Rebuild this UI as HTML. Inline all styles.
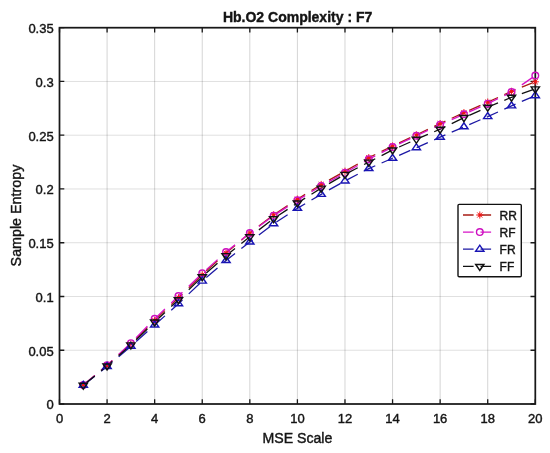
<!DOCTYPE html>
<html><head><meta charset="utf-8"><title>Hb.O2 Complexity : F7</title>
<style>html,body{margin:0;padding:0;background:#fff;overflow:hidden}svg{display:block;filter:blur(0.4px)}</style>
</head><body>
<svg width="550" height="453" viewBox="0 0 550 453">
<rect width="550" height="453" fill="#fff"/>
<path d="M107.08 27.7 V404.0 M154.66 27.7 V404.0 M202.24 27.7 V404.0 M249.82 27.7 V404.0 M297.40 27.7 V404.0 M344.98 27.7 V404.0 M392.56 27.7 V404.0 M440.14 27.7 V404.0 M487.72 27.7 V404.0" stroke="#000" stroke-opacity="0.19" stroke-width="0.9" fill="none"/>
<path d="M59.5 350.24 H535.3 M59.5 296.49 H535.3 M59.5 242.73 H535.3 M59.5 188.97 H535.3 M59.5 135.21 H535.3 M59.5 81.46 H535.3" stroke="#000" stroke-opacity="0.14" stroke-width="0.9" fill="none"/>
<path d="M59.50 404.0 v-4.8 M59.50 27.7 v4.8 M107.08 404.0 v-4.8 M107.08 27.7 v4.8 M154.66 404.0 v-4.8 M154.66 27.7 v4.8 M202.24 404.0 v-4.8 M202.24 27.7 v4.8 M249.82 404.0 v-4.8 M249.82 27.7 v4.8 M297.40 404.0 v-4.8 M297.40 27.7 v4.8 M344.98 404.0 v-4.8 M344.98 27.7 v4.8 M392.56 404.0 v-4.8 M392.56 27.7 v4.8 M440.14 404.0 v-4.8 M440.14 27.7 v4.8 M487.72 404.0 v-4.8 M487.72 27.7 v4.8 M535.30 404.0 v-4.8 M535.30 27.7 v4.8 M59.5 404.00 h4.8 M535.3 404.00 h-4.8 M59.5 350.24 h4.8 M535.3 350.24 h-4.8 M59.5 296.49 h4.8 M535.3 296.49 h-4.8 M59.5 242.73 h4.8 M535.3 242.73 h-4.8 M59.5 188.97 h4.8 M535.3 188.97 h-4.8 M59.5 135.21 h4.8 M535.3 135.21 h-4.8 M59.5 81.46 h4.8 M535.3 81.46 h-4.8 M59.5 27.70 h4.8 M535.3 27.70 h-4.8" stroke="#181818" stroke-width="1.3" fill="none"/>
<rect x="59.5" y="27.7" width="475.79999999999995" height="376.3" fill="none" stroke="#181818" stroke-width="1.75"/>
<path d="M83.59 384.83 L94.79 375.52 M101.12 370.25 L107.08 365.30 L112.32 360.56 M118.65 354.84 L129.85 344.72 M136.18 338.56 L147.38 327.53 M153.71 321.29 L154.66 320.36 L164.91 310.63 M171.24 304.62 L178.45 297.78 L182.44 293.92 M188.77 287.80 L199.97 276.97 M206.30 271.07 L217.50 260.84 M223.83 255.06 L226.03 253.06 L235.03 245.49 M241.36 240.17 L249.82 233.06 L252.56 230.95 M258.89 226.09 L270.09 217.49 M276.42 212.94 L287.62 205.60 M293.95 201.45 L297.40 199.19 L305.15 194.40 M311.48 190.48 L321.19 184.46 L322.68 183.64 M329.01 180.12 L340.21 173.89 M346.54 170.35 L357.74 163.98 M364.07 160.37 L368.77 157.69 L375.27 154.49 M381.60 151.37 L392.56 145.98 L392.80 145.86 M399.13 142.92 L410.33 137.70 M416.66 134.76 L427.86 129.44 M434.19 126.44 L440.14 123.61 L445.39 121.19 M451.72 118.28 L462.92 113.11 M469.25 110.29 L480.45 105.33 M486.78 102.53 L487.72 102.11 L497.98 97.48 M504.31 94.61 L511.51 91.36 L515.51 89.75 M521.84 87.21 L533.04 82.70" fill="none" stroke="#a81c14" stroke-width="1.3"/>
<path d="M83.59 384.83 L94.79 375.52 M101.12 370.25 L107.08 365.30 L112.32 360.42 M118.65 354.53 L129.85 344.10 M136.18 337.73 L147.38 326.29 M153.71 319.82 L154.66 318.85 L164.91 309.03 M171.24 302.97 L178.45 296.06 L182.44 292.24 M188.77 286.17 L199.97 275.44 M206.30 269.64 L217.50 259.61 M223.83 253.95 L226.03 251.98 L235.03 244.82 M241.36 239.79 L249.82 233.06 L252.56 231.05 M258.89 226.42 L270.09 218.22 M276.42 213.83 L287.62 206.59 M293.95 202.50 L297.40 200.27 L305.15 195.61 M311.48 191.81 L321.19 185.97 L322.68 185.15 M329.01 181.66 L340.21 175.48 M346.54 171.96 L357.74 165.53 M364.07 161.90 L368.77 159.20 L375.27 155.88 M381.60 152.65 L392.56 147.05 L392.80 146.94 M399.13 143.96 L410.33 138.70 M416.66 135.72 L427.86 130.46 M434.19 127.49 L440.14 124.69 L445.39 122.39 M451.72 119.61 L462.92 114.70 M469.25 111.90 L480.45 106.94 M486.78 104.14 L487.72 103.72 L497.98 98.67 M504.31 95.55 L511.51 92.01 L515.51 89.24 M521.84 84.86 L533.04 77.12" fill="none" stroke="#d814c8" stroke-width="1.3"/>
<path d="M83.59 385.06 L94.79 376.20 M101.12 371.19 L107.08 366.48 L112.32 362.03 M118.65 356.65 L129.85 347.13 M136.18 341.54 L147.38 331.57 M153.71 325.93 L154.66 325.09 L164.91 315.87 M171.24 310.18 L178.45 303.69 L182.44 299.91 M188.77 293.90 L199.97 283.27 M206.30 277.61 L217.50 267.94 M223.83 262.48 L226.03 260.58 L235.03 253.55 M241.36 248.60 L249.82 241.98 L252.56 239.89 M258.89 235.06 L270.09 226.50 M276.42 221.98 L287.62 214.70 M293.95 210.58 L297.40 208.33 L305.15 203.78 M311.48 200.06 L321.19 194.36 L322.68 193.51 M329.01 189.94 L340.21 183.61 M346.54 180.11 L357.74 174.29 M364.07 171.00 L368.77 168.55 L375.27 165.73 M381.60 162.99 L392.56 158.23 L392.80 158.13 M399.13 155.32 L410.33 150.36 M416.66 147.56 L427.86 142.60 M434.19 139.80 L440.14 137.16 L445.39 134.88 M451.72 132.14 L462.92 127.28 M469.25 124.56 L480.45 119.75 M486.78 117.03 L487.72 116.63 L497.98 111.99 M504.31 109.13 L511.51 105.87 L515.51 104.16 M521.84 101.44 L533.04 96.63" fill="none" stroke="#1c18a4" stroke-width="1.3"/>
<path d="M83.59 385.05 L94.79 375.94 M101.12 370.79 L107.08 365.94 L112.32 361.30 M118.65 355.69 L129.85 345.77 M136.18 339.78 L147.38 329.05 M153.71 322.99 L154.66 322.08 L164.91 312.44 M171.24 306.49 L178.45 299.72 L182.44 295.86 M188.77 289.73 L199.97 278.90 M206.30 273.11 L217.50 263.19 M223.83 257.58 L226.03 255.64 L235.03 248.52 M241.36 243.51 L249.82 236.82 L252.56 234.73 M258.89 229.89 L270.09 221.34 M276.42 216.80 L287.62 209.41 M293.95 205.23 L297.40 202.96 L305.15 198.12 M311.48 194.18 L321.19 188.12 L322.68 187.26 M329.01 183.60 L340.21 177.12 M346.54 173.55 L357.74 167.78 M364.07 164.52 L368.77 162.10 L375.27 158.78 M381.60 155.55 L392.56 149.95 L392.80 149.85 M399.13 147.01 L410.33 142.00 M416.66 139.18 L427.86 134.42 M434.19 131.73 L440.14 129.20 L445.39 126.64 M451.72 123.55 L462.92 118.09 M469.25 115.29 L480.45 110.43 M486.78 107.68 L487.72 107.27 L497.98 102.96 M504.31 100.30 L511.51 97.27 L515.51 95.86 M521.84 93.63 L533.04 89.68" fill="none" stroke="#111111" stroke-width="1.3"/>
<path d="M79.69 385.08 H86.89 M83.29 381.48 V388.68 M80.74 382.53 L85.84 387.62 M80.74 387.62 L85.84 382.53" fill="none" stroke="#f01414" stroke-width="0.95"/><circle cx="83.29" cy="385.08" r="1.5" fill="#f01414"/>
<path d="M103.48 365.30 H110.68 M107.08 361.70 V368.90 M104.53 362.75 L109.63 367.84 M104.53 367.84 L109.63 362.75" fill="none" stroke="#f01414" stroke-width="0.95"/><circle cx="107.08" cy="365.30" r="1.5" fill="#f01414"/>
<path d="M127.27 343.79 H134.47 M130.87 340.19 V347.39 M128.32 341.25 L133.42 346.34 M128.32 346.34 L133.42 341.25" fill="none" stroke="#f01414" stroke-width="0.95"/><circle cx="130.87" cy="343.79" r="1.5" fill="#f01414"/>
<path d="M151.06 320.36 H158.26 M154.66 316.76 V323.96 M152.11 317.81 L157.21 322.90 M152.11 322.90 L157.21 317.81" fill="none" stroke="#f01414" stroke-width="0.95"/><circle cx="154.66" cy="320.36" r="1.5" fill="#f01414"/>
<path d="M174.85 297.78 H182.05 M178.45 294.18 V301.38 M175.90 295.23 L181.00 300.33 M175.90 300.33 L181.00 295.23" fill="none" stroke="#f01414" stroke-width="0.95"/><circle cx="178.45" cy="297.78" r="1.5" fill="#f01414"/>
<path d="M198.64 274.77 H205.84 M202.24 271.17 V278.37 M199.69 272.23 L204.79 277.32 M199.69 277.32 L204.79 272.23" fill="none" stroke="#f01414" stroke-width="0.95"/><circle cx="202.24" cy="274.77" r="1.5" fill="#f01414"/>
<path d="M222.43 253.06 H229.63 M226.03 249.46 V256.66 M223.48 250.51 L228.58 255.60 M223.48 255.60 L228.58 250.51" fill="none" stroke="#f01414" stroke-width="0.95"/><circle cx="226.03" cy="253.06" r="1.5" fill="#f01414"/>
<path d="M246.22 233.06 H253.42 M249.82 229.46 V236.66 M247.27 230.51 L252.37 235.60 M247.27 235.60 L252.37 230.51" fill="none" stroke="#f01414" stroke-width="0.95"/><circle cx="249.82" cy="233.06" r="1.5" fill="#f01414"/>
<path d="M270.01 214.78 H277.21 M273.61 211.18 V218.38 M271.06 212.24 L276.16 217.33 M271.06 217.33 L276.16 212.24" fill="none" stroke="#f01414" stroke-width="0.95"/><circle cx="273.61" cy="214.78" r="1.5" fill="#f01414"/>
<path d="M293.80 199.19 H301.00 M297.40 195.59 V202.79 M294.85 196.65 L299.95 201.74 M294.85 201.74 L299.95 196.65" fill="none" stroke="#f01414" stroke-width="0.95"/><circle cx="297.40" cy="199.19" r="1.5" fill="#f01414"/>
<path d="M317.59 184.46 H324.79 M321.19 180.86 V188.06 M318.64 181.92 L323.74 187.01 M318.64 187.01 L323.74 181.92" fill="none" stroke="#f01414" stroke-width="0.95"/><circle cx="321.19" cy="184.46" r="1.5" fill="#f01414"/>
<path d="M341.38 171.24 H348.58 M344.98 167.64 V174.84 M342.43 168.70 L347.53 173.79 M342.43 173.79 L347.53 168.70" fill="none" stroke="#f01414" stroke-width="0.95"/><circle cx="344.98" cy="171.24" r="1.5" fill="#f01414"/>
<path d="M365.17 157.69 H372.37 M368.77 154.09 V161.29 M366.22 155.15 L371.32 160.24 M366.22 160.24 L371.32 155.15" fill="none" stroke="#f01414" stroke-width="0.95"/><circle cx="368.77" cy="157.69" r="1.5" fill="#f01414"/>
<path d="M388.96 145.98 H396.16 M392.56 142.38 V149.58 M390.01 143.43 L395.11 148.52 M390.01 148.52 L395.11 143.43" fill="none" stroke="#f01414" stroke-width="0.95"/><circle cx="392.56" cy="145.98" r="1.5" fill="#f01414"/>
<path d="M412.75 134.90 H419.95 M416.35 131.30 V138.50 M413.80 132.36 L418.90 137.45 M413.80 137.45 L418.90 132.36" fill="none" stroke="#f01414" stroke-width="0.95"/><circle cx="416.35" cy="134.90" r="1.5" fill="#f01414"/>
<path d="M436.54 123.61 H443.74 M440.14 120.01 V127.21 M437.59 121.07 L442.69 126.16 M437.59 126.16 L442.69 121.07" fill="none" stroke="#f01414" stroke-width="0.95"/><circle cx="440.14" cy="123.61" r="1.5" fill="#f01414"/>
<path d="M460.33 112.65 H467.53 M463.93 109.05 V116.25 M461.38 110.10 L466.48 115.19 M461.38 115.19 L466.48 110.10" fill="none" stroke="#f01414" stroke-width="0.95"/><circle cx="463.93" cy="112.65" r="1.5" fill="#f01414"/>
<path d="M484.12 102.11 H491.32 M487.72 98.51 V105.71 M485.17 99.57 L490.27 104.66 M485.17 104.66 L490.27 99.57" fill="none" stroke="#f01414" stroke-width="0.95"/><circle cx="487.72" cy="102.11" r="1.5" fill="#f01414"/>
<path d="M507.91 91.36 H515.11 M511.51 87.76 V94.96 M508.96 88.82 L514.06 93.91 M508.96 93.91 L514.06 88.82" fill="none" stroke="#f01414" stroke-width="0.95"/><circle cx="511.51" cy="91.36" r="1.5" fill="#f01414"/>
<path d="M531.70 81.79 H538.90 M535.30 78.19 V85.39 M532.75 79.25 L537.85 84.34 M532.75 84.34 L537.85 79.25" fill="none" stroke="#f01414" stroke-width="0.95"/><circle cx="535.30" cy="81.79" r="1.5" fill="#f01414"/>
<circle cx="83.29" cy="385.08" r="3.3" fill="none" stroke="#cc10c0" stroke-width="1.4"/>
<circle cx="107.08" cy="365.30" r="3.3" fill="none" stroke="#cc10c0" stroke-width="1.4"/>
<circle cx="130.87" cy="343.15" r="3.3" fill="none" stroke="#cc10c0" stroke-width="1.4"/>
<circle cx="154.66" cy="318.85" r="3.3" fill="none" stroke="#cc10c0" stroke-width="1.4"/>
<circle cx="178.45" cy="296.06" r="3.3" fill="none" stroke="#cc10c0" stroke-width="1.4"/>
<circle cx="202.24" cy="273.27" r="3.3" fill="none" stroke="#cc10c0" stroke-width="1.4"/>
<circle cx="226.03" cy="251.98" r="3.3" fill="none" stroke="#cc10c0" stroke-width="1.4"/>
<circle cx="249.82" cy="233.06" r="3.3" fill="none" stroke="#cc10c0" stroke-width="1.4"/>
<circle cx="273.61" cy="215.64" r="3.3" fill="none" stroke="#cc10c0" stroke-width="1.4"/>
<circle cx="297.40" cy="200.27" r="3.3" fill="none" stroke="#cc10c0" stroke-width="1.4"/>
<circle cx="321.19" cy="185.97" r="3.3" fill="none" stroke="#cc10c0" stroke-width="1.4"/>
<circle cx="344.98" cy="172.85" r="3.3" fill="none" stroke="#cc10c0" stroke-width="1.4"/>
<circle cx="368.77" cy="159.20" r="3.3" fill="none" stroke="#cc10c0" stroke-width="1.4"/>
<circle cx="392.56" cy="147.05" r="3.3" fill="none" stroke="#cc10c0" stroke-width="1.4"/>
<circle cx="416.35" cy="135.87" r="3.3" fill="none" stroke="#cc10c0" stroke-width="1.4"/>
<circle cx="440.14" cy="124.69" r="3.3" fill="none" stroke="#cc10c0" stroke-width="1.4"/>
<circle cx="463.93" cy="114.26" r="3.3" fill="none" stroke="#cc10c0" stroke-width="1.4"/>
<circle cx="487.72" cy="103.72" r="3.3" fill="none" stroke="#cc10c0" stroke-width="1.4"/>
<circle cx="511.51" cy="92.01" r="3.3" fill="none" stroke="#cc10c0" stroke-width="1.4"/>
<circle cx="535.30" cy="75.56" r="3.3" fill="none" stroke="#cc10c0" stroke-width="1.4"/>
<path d="M79.19 387.29 L87.39 387.29 L83.29 381.29 Z" fill="none" stroke="#1814b4" stroke-width="1.45" stroke-linejoin="miter"/>
<path d="M102.98 368.48 L111.18 368.48 L107.08 362.48 Z" fill="none" stroke="#1814b4" stroke-width="1.45" stroke-linejoin="miter"/>
<path d="M126.77 348.27 L134.97 348.27 L130.87 342.27 Z" fill="none" stroke="#1814b4" stroke-width="1.45" stroke-linejoin="miter"/>
<path d="M150.56 327.09 L158.76 327.09 L154.66 321.09 Z" fill="none" stroke="#1814b4" stroke-width="1.45" stroke-linejoin="miter"/>
<path d="M174.35 305.69 L182.55 305.69 L178.45 299.69 Z" fill="none" stroke="#1814b4" stroke-width="1.45" stroke-linejoin="miter"/>
<path d="M198.14 283.12 L206.34 283.12 L202.24 277.12 Z" fill="none" stroke="#1814b4" stroke-width="1.45" stroke-linejoin="miter"/>
<path d="M221.93 262.58 L230.13 262.58 L226.03 256.58 Z" fill="none" stroke="#1814b4" stroke-width="1.45" stroke-linejoin="miter"/>
<path d="M245.72 243.98 L253.92 243.98 L249.82 237.98 Z" fill="none" stroke="#1814b4" stroke-width="1.45" stroke-linejoin="miter"/>
<path d="M269.51 225.81 L277.71 225.81 L273.61 219.81 Z" fill="none" stroke="#1814b4" stroke-width="1.45" stroke-linejoin="miter"/>
<path d="M293.30 210.33 L301.50 210.33 L297.40 204.33 Z" fill="none" stroke="#1814b4" stroke-width="1.45" stroke-linejoin="miter"/>
<path d="M317.09 196.36 L325.29 196.36 L321.19 190.36 Z" fill="none" stroke="#1814b4" stroke-width="1.45" stroke-linejoin="miter"/>
<path d="M340.88 182.92 L349.08 182.92 L344.98 176.92 Z" fill="none" stroke="#1814b4" stroke-width="1.45" stroke-linejoin="miter"/>
<path d="M364.67 170.55 L372.87 170.55 L368.77 164.55 Z" fill="none" stroke="#1814b4" stroke-width="1.45" stroke-linejoin="miter"/>
<path d="M388.46 160.23 L396.66 160.23 L392.56 154.23 Z" fill="none" stroke="#1814b4" stroke-width="1.45" stroke-linejoin="miter"/>
<path d="M412.25 149.70 L420.45 149.70 L416.35 143.70 Z" fill="none" stroke="#1814b4" stroke-width="1.45" stroke-linejoin="miter"/>
<path d="M436.04 139.16 L444.24 139.16 L440.14 133.16 Z" fill="none" stroke="#1814b4" stroke-width="1.45" stroke-linejoin="miter"/>
<path d="M459.83 128.84 L468.03 128.84 L463.93 122.84 Z" fill="none" stroke="#1814b4" stroke-width="1.45" stroke-linejoin="miter"/>
<path d="M483.62 118.63 L491.82 118.63 L487.72 112.63 Z" fill="none" stroke="#1814b4" stroke-width="1.45" stroke-linejoin="miter"/>
<path d="M507.41 107.87 L515.61 107.87 L511.51 101.87 Z" fill="none" stroke="#1814b4" stroke-width="1.45" stroke-linejoin="miter"/>
<path d="M531.20 97.66 L539.40 97.66 L535.30 91.66 Z" fill="none" stroke="#1814b4" stroke-width="1.45" stroke-linejoin="miter"/>
<path d="M79.19 383.29 L87.39 383.29 L83.29 389.29 Z" fill="none" stroke="#111111" stroke-width="1.45" stroke-linejoin="miter"/>
<path d="M102.98 363.94 L111.18 363.94 L107.08 369.94 Z" fill="none" stroke="#111111" stroke-width="1.45" stroke-linejoin="miter"/>
<path d="M126.77 342.87 L134.97 342.87 L130.87 348.87 Z" fill="none" stroke="#111111" stroke-width="1.45" stroke-linejoin="miter"/>
<path d="M150.56 320.08 L158.76 320.08 L154.66 326.08 Z" fill="none" stroke="#111111" stroke-width="1.45" stroke-linejoin="miter"/>
<path d="M174.35 297.72 L182.55 297.72 L178.45 303.72 Z" fill="none" stroke="#111111" stroke-width="1.45" stroke-linejoin="miter"/>
<path d="M198.14 274.71 L206.34 274.71 L202.24 280.71 Z" fill="none" stroke="#111111" stroke-width="1.45" stroke-linejoin="miter"/>
<path d="M221.93 253.64 L230.13 253.64 L226.03 259.64 Z" fill="none" stroke="#111111" stroke-width="1.45" stroke-linejoin="miter"/>
<path d="M245.72 234.82 L253.92 234.82 L249.82 240.82 Z" fill="none" stroke="#111111" stroke-width="1.45" stroke-linejoin="miter"/>
<path d="M269.51 216.65 L277.71 216.65 L273.61 222.65 Z" fill="none" stroke="#111111" stroke-width="1.45" stroke-linejoin="miter"/>
<path d="M293.30 200.96 L301.50 200.96 L297.40 206.96 Z" fill="none" stroke="#111111" stroke-width="1.45" stroke-linejoin="miter"/>
<path d="M317.09 186.12 L325.29 186.12 L321.19 192.12 Z" fill="none" stroke="#111111" stroke-width="1.45" stroke-linejoin="miter"/>
<path d="M340.88 172.36 L349.08 172.36 L344.98 178.36 Z" fill="none" stroke="#111111" stroke-width="1.45" stroke-linejoin="miter"/>
<path d="M364.67 160.10 L372.87 160.10 L368.77 166.10 Z" fill="none" stroke="#111111" stroke-width="1.45" stroke-linejoin="miter"/>
<path d="M388.46 147.95 L396.66 147.95 L392.56 153.95 Z" fill="none" stroke="#111111" stroke-width="1.45" stroke-linejoin="miter"/>
<path d="M412.25 137.31 L420.45 137.31 L416.35 143.31 Z" fill="none" stroke="#111111" stroke-width="1.45" stroke-linejoin="miter"/>
<path d="M436.04 127.20 L444.24 127.20 L440.14 133.20 Z" fill="none" stroke="#111111" stroke-width="1.45" stroke-linejoin="miter"/>
<path d="M459.83 115.59 L468.03 115.59 L463.93 121.59 Z" fill="none" stroke="#111111" stroke-width="1.45" stroke-linejoin="miter"/>
<path d="M483.62 105.27 L491.82 105.27 L487.72 111.27 Z" fill="none" stroke="#111111" stroke-width="1.45" stroke-linejoin="miter"/>
<path d="M507.41 95.27 L515.61 95.27 L511.51 101.27 Z" fill="none" stroke="#111111" stroke-width="1.45" stroke-linejoin="miter"/>
<path d="M531.20 86.89 L539.40 86.89 L535.30 92.89 Z" fill="none" stroke="#111111" stroke-width="1.45" stroke-linejoin="miter"/>
<g font-family="Liberation Sans, sans-serif" font-size="13" fill="#141414" stroke="#141414" stroke-width="0.4">
<text x="59.50" y="423.4" text-anchor="middle">0</text>
<text x="107.08" y="423.4" text-anchor="middle">2</text>
<text x="154.66" y="423.4" text-anchor="middle">4</text>
<text x="202.24" y="423.4" text-anchor="middle">6</text>
<text x="249.82" y="423.4" text-anchor="middle">8</text>
<text x="297.40" y="423.4" text-anchor="middle">10</text>
<text x="344.98" y="423.4" text-anchor="middle">12</text>
<text x="392.56" y="423.4" text-anchor="middle">14</text>
<text x="440.14" y="423.4" text-anchor="middle">16</text>
<text x="487.72" y="423.4" text-anchor="middle">18</text>
<text x="535.30" y="423.4" text-anchor="middle">20</text>
<text x="53.7" y="409.40" text-anchor="end">0</text>
<text x="53.7" y="355.64" text-anchor="end">0.05</text>
<text x="53.7" y="301.89" text-anchor="end">0.1</text>
<text x="53.7" y="248.13" text-anchor="end">0.15</text>
<text x="53.7" y="194.37" text-anchor="end">0.2</text>
<text x="53.7" y="140.61" text-anchor="end">0.25</text>
<text x="53.7" y="86.86" text-anchor="end">0.3</text>
<text x="53.7" y="33.10" text-anchor="end">0.35</text>
<text x="297.40" y="443.0" text-anchor="middle" font-size="14.15">MSE Scale</text>
<text transform="translate(20.6 215.55) rotate(-90)" text-anchor="middle" font-size="14.3">Sample Entropy</text>
<text x="297.6" y="21.8" text-anchor="middle" font-weight="bold" font-size="14">Hb.O2 Complexity : F7</text>
</g>
<rect x="458.0" y="204.4" width="63.299999999999955" height="72.29999999999998" rx="1.2" fill="#fff" stroke="#111" stroke-width="1.4"/>
<path d="M463 215 H473.6 M480.5 215 H491.1" stroke="#a81c14" stroke-width="1.3" fill="none"/>
<path d="M476.20 215.00 H483.40 M479.80 211.40 V218.60 M477.25 212.45 L482.35 217.55 M477.25 217.55 L482.35 212.45" fill="none" stroke="#f01414" stroke-width="0.95"/><circle cx="479.80" cy="215.00" r="1.5" fill="#f01414"/>
<text x="499.6" y="220.00" font-family="Liberation Sans, sans-serif" font-size="12" fill="#141414" stroke="#141414" stroke-width="0.4">RR</text>
<path d="M463 232.1 H473.6 M480.5 232.1 H491.1" stroke="#d814c8" stroke-width="1.3" fill="none"/>
<circle cx="479.80" cy="232.10" r="3.3" fill="none" stroke="#cc10c0" stroke-width="1.4"/>
<text x="499.6" y="237.10" font-family="Liberation Sans, sans-serif" font-size="12" fill="#141414" stroke="#141414" stroke-width="0.4">RF</text>
<path d="M463 249.2 H473.6 M480.5 249.2 H491.1" stroke="#1c18a4" stroke-width="1.3" fill="none"/>
<path d="M475.70 251.20 L483.90 251.20 L479.80 245.20 Z" fill="none" stroke="#1814b4" stroke-width="1.45" stroke-linejoin="miter"/>
<text x="499.6" y="254.20" font-family="Liberation Sans, sans-serif" font-size="12" fill="#141414" stroke="#141414" stroke-width="0.4">FR</text>
<path d="M463 266.4 H473.6 M480.5 266.4 H491.1" stroke="#111111" stroke-width="1.3" fill="none"/>
<path d="M475.70 264.40 L483.90 264.40 L479.80 270.40 Z" fill="none" stroke="#111111" stroke-width="1.45" stroke-linejoin="miter"/>
<text x="499.6" y="271.40" font-family="Liberation Sans, sans-serif" font-size="12" fill="#141414" stroke="#141414" stroke-width="0.4">FF</text>
</svg>
</body></html>
